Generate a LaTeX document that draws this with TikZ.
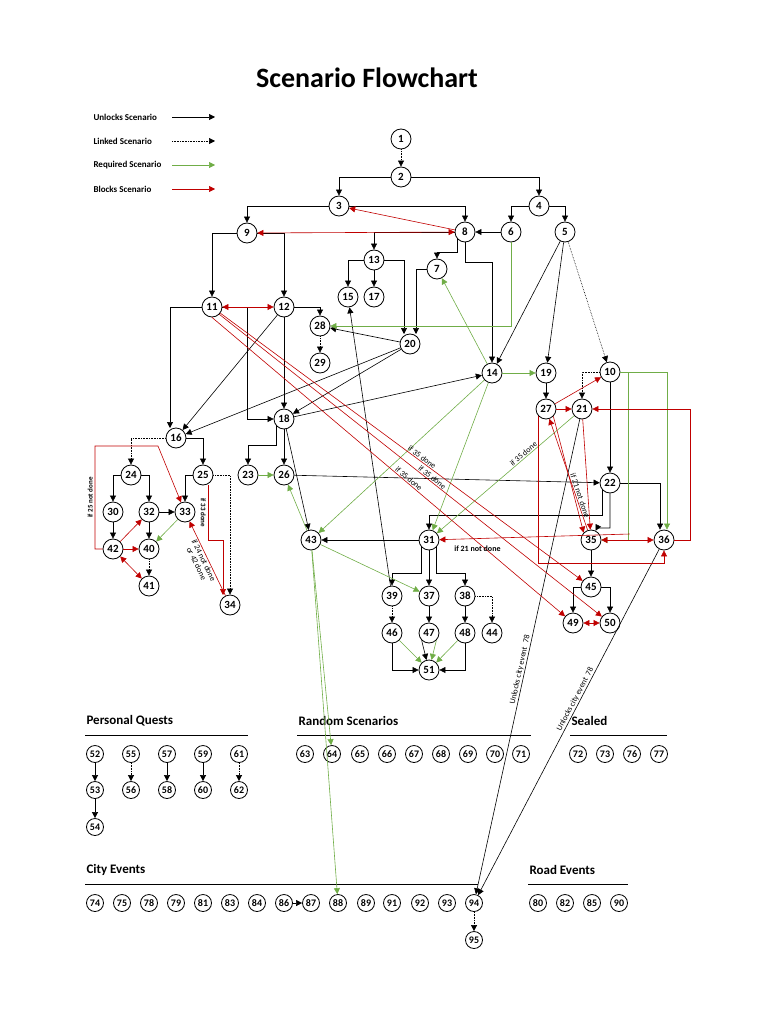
\documentclass[tikz,border=0pt]{standalone}
\usepackage{fontspec}
\setmainfont{Carlito}
\usetikzlibrary{arrows.meta}
\definecolor{reqgreen}{RGB}{112,173,71}
\definecolor{blkred}{RGB}{192,0,0}
\tikzset{
  sc/.style={circle,draw,thick,inner sep=0pt,minimum size=20pt,font=\bfseries\fontsize{11}{11}\selectfont},
  ssc/.style={circle,draw,thick,inner sep=0pt,minimum size=17pt,font=\bfseries\fontsize{10}{10}\selectfont},
  unl/.style={-{Triangle[length=6pt,width=6pt]},semithick},
  lnk/.style={unl,densely dotted},
  req/.style={unl,reqgreen},
  blo/.style={unl,blkred},
  bblo/.style={{Triangle[length=6pt,width=6pt]}-{Triangle[length=6pt,width=6pt]},semithick,blkred},
  hd/.style={font=\bfseries\fontsize{13}{13}\selectfont,anchor=west},
  lg/.style={font=\bfseries\fontsize{9}{9}\selectfont,anchor=west},
  lab/.style={font=\fontsize{8}{8}\selectfont,text=black,sloped,above,inner sep=1pt},
}
\begin{document}
\begin{tikzpicture}[x=1pt,y=-1pt]
\useasboundingbox (0,0) rectangle (768,1024);
\node[font=\bfseries\fontsize{28}{28}\selectfont] (title) at (367,78) {Scenario Flowchart};
% legend
\node[lg] (l1) at (90,117) {Unlocks Scenario};
\node[lg] (l2) at (90,141) {Linked Scenario};
\node[lg] (l3) at (90,165) {Required Scenario};
\node[lg] (l4) at (90,189) {Blocks Scenario};
\coordinate (a1) at (172,117); \coordinate (b1) at (215,117);
\coordinate (a2) at (172,141); \coordinate (b2) at (215,141);
\coordinate (a3) at (172,165); \coordinate (b3) at (215,165);
\coordinate (a4) at (172,189); \coordinate (b4) at (215,189);
\draw[unl] (a1) -- (b1);
\draw[lnk] (a2) -- (b2);
\draw[req] (a3) -- (b3);
\draw[blo] (a4) -- (b4);
% main scenarios
\foreach \n/\x/\y in {1/401/139,2/401/177,3/339/206,4/539/206,9/247/233,8/465/232,6/511/232,5/565/232,
  13/374/260,7/437/269,15/348/297,17/374/297,11/212/307,12/284/307,28/320/326,29/320/363,20/410/344,
  14/492/373,19/546/373,10/610/372,27/546/409,21/582/409,16/176/438,18/284/419,24/131/475,25/203/475,
  23/248/475,26/284/475,30/113/512,32/149/512,33/185/512,22/610/483,42/113/549,40/149/549,43/311/540,
  31/429/540,35/591/540,36/664/540,41/149/586,34/230/605,45/591/587,39/392/596,37/429/596,38/465/596,
  49/573/623,50/610/623,46/392/633,47/429/633,48/465/633,44/492/633,51/429/670}
  \node[sc] (s\n) at (\x,\y) {\n};
% sections
\node[hd] (hpq) at (83,721) {Personal Quests};
\node[hd] (hrs) at (295,721) {Random Scenarios};
\node[hd] (hse) at (568,721) {Sealed};
\node[hd] (hce) at (83,870) {City Events};
\node[hd] (hre) at (526,870) {Road Events};
\draw[thick] (85,735) -- (248,735) (297,735) -- (531,735) (570,735) -- (667,735)
  (85,884) -- (478,884) (528,884) -- (628,884);
\foreach \n/\x in {52/95,55/131,57/167,59/203,61/239,63/305,64/332,65/360,66/387,67/414,68/441,69/468,70/495,71/521,72/578,73/605,76/632,77/659}
  \node[ssc] (s\n) at (\x,754) {\n};
\foreach \n/\x in {53/95,56/131,58/167,60/203,62/239}
  \node[ssc] (s\n) at (\x,790) {\n};
\node[ssc] (s54) at (95,827) {54};
\foreach \n/\x in {74/95,75/122,78/149,79/176,81/203,83/230,84/257,86/284,87/311,88/338,89/366,91/392,92/420,93/447,94/474,80/538,82/565,85/592,90/619}
  \node[ssc] (s\n) at (\x,903) {\n};
\node[ssc] (s95) at (474,940) {95};
% unlocks
\draw[lnk] (s1) -- (s2);
\draw[unl] (s2) -| (s3);
\draw[unl] (s2) -| (s4);
\draw[unl] (s3) -| (s9);
\draw[unl] (s3) -| (s8);
\draw[unl] (s4) -| (s6);
\draw[unl] (s4) -| (s5);
\draw[unl] (s6) -- (s8);
\draw[unl] (s8.west) -| (s13);
\draw[unl] (s8.south west) |- (437,252) -- (s7);
\draw[unl] (s8.south) |- (492,262) -- (s14);
\draw[unl] (s13) -| (s15);
\draw[unl] (s13) -- (s17);
\draw[unl] (s13) -| (404,334);
\draw[unl] (s7) -| (416,334);
\draw[unl] (s20) -- (s28);
\draw[lnk] (s28) -- (s29);
\draw[unl] (s9) -| (s11);
\draw[unl] (s9) -| (s12);
\draw[unl] (s12) -| (s28);
\draw[unl] (s11.west) -| (170,428);
\draw[unl] (s11.east) -| (247,419) -- (s18);
\draw[unl] (s12) -- (s16);
\draw[unl] (s12) -- (s18);
\draw[unl] (s20) -- (s16);
\draw[unl] (s20) -- (s18);
\draw[unl] (s18) -- (s14);
\draw[unl] (s39) -- (s15);
\draw[unl] (s5) -- (s14);
\draw[unl] (s5) -- (s19);
\draw[lnk] (s5) -- (s10);
\draw[unl] (s19) -- (s27);
\draw[lnk] (s10.west) -| (s21);
\draw[unl] (s10) -- (s22);
\draw[unl] (s22.south west) |- (429,515) -- (s31);
\draw[unl] (s22.south) |- (597,528) -- (s35);
\draw[unl] (s22) -| ([xshift=-4pt]s36.north);
\draw[unl] (s26) -- (s22);
\draw[lnk] (s16) -| (s24);
\draw[unl] (s16) -| (s25);
\draw[unl] (s24) -| (s30);
\draw[unl] (s24) -| (s32);
\draw[unl] (s30) -- (s42);
\draw[unl] (s32) -- (s33);
\draw[unl] (s32) -- (s40);
\draw[lnk] (s40) -- (s41);
\draw[unl] (s25) -| (s33);
\draw[lnk] (s25) -| (s34);
\draw[unl] (s18.south west) |- (248,445) -- (s23);
\draw[unl] (s18) -- (s26);
\draw[unl] (s18) -- (s43);
\draw[unl] (s31) -- (s43);
\draw[unl] (s31.south west) |- (392,573) -- (s39);
\draw[unl] (s31) -- (s37);
\draw[unl] (s31.south east) |- (465,573) -- (s38);
\draw[lnk] (s39) -- (s46);
\draw[unl] (s37) -- (s47);
\draw[unl] (s38) -- (s48);
\draw[lnk] (s38) -| (s44);
\draw[unl] (s46) |- (s51);
\draw[unl] (s47.south west) -- (s51);
\draw[unl] (s48) |- (s51);
\draw[unl] (s35) -- (s45);
\draw[unl] (s45) -| (s49);
\draw[unl] (s45) -| (s50);
\draw[unl] (s21) -- node[lab,pos=0.53] {Unlocks city event\ \ 78} (s94);
\draw[unl] (s36) -- node[lab,pos=0.44] {Unlocks city event\ \ 78} (s94);
\draw[unl] (s52) -- (s53);
\draw[unl] (s53) -- (s54);
\draw[lnk] (s55) -- (s56);
\draw[unl] (s57) -- (s58);
\draw[unl] (s59) -- (s60);
\draw[lnk] (s61) -- (s62);
\draw[unl] (s86) -- (s87);
\draw[lnk] (s94) -- (s95);
% required
\draw[req] (s6) |- (s28);
\draw[req] (s14) -- (s19);
\draw[req] (s14) -- (s7);
\draw[req] (s14) -- (s43);
\draw[req] (s14) -- (s31);
\draw[req] (s21) -- node[lab,pos=0.35] {if 35 done} (s31);
\draw[req] (s10) -| (628,540) -- (s35);
\draw[req] (s10) -| ([xshift=3pt]s36.north);
\draw[req] (s33) -- (s40);
\draw[req] (s23) -- (s26);
\draw[req] (s43) -- (s26);
\draw[req] (s43) -- (s64);
\draw[req] (s43) -- (s88);
\draw[req] (s43) -- (s37);
\draw[req] (s46) -- (s51);
\draw[req] (s47.south east) -- (s51);
\draw[req] (s48) -- (s51);
% blocks
\draw[blo] (s8) -- (s3);
\draw[bblo] (s9) -- (s8);
\draw[bblo] (s11) -- (s12);
\draw[blo] (s11) -- node[lab,pos=0.55] {if 35 done} (s45);
\draw[blo] (s11.south east) -- node[lab,pos=0.55] {if 35 done} (s50);
\draw[blo] (s11.south) -- node[lab,pos=0.55] {if 35 done} (s49);
\draw[blo] (s27) -- (s10);
\draw[blo] (s27) -- (s21);
\draw[blo] (s36.east) -| (690,409) -- (s21);
\draw[blo] (s21) -- (s35);
\draw[blo] (s27.south east) -- (s35.north west);
\draw[blo] (s35) -- node[lab,pos=0.3] {if 21 not done} (s27);
\draw[blo] (s27.south west) |- (664,563) -- (s36);
\draw[bblo] (s35) -- (s36);
\draw[blo] (s36.west) ++(-24,-6) -- node[below=4pt,pos=0.8,text=black,font=\bfseries\fontsize{8}{8}\selectfont] {if 21 not done} (s31);
\draw[blo] (s42) -- (s40);
\draw[blo] (s42) -- (s32);
\draw[bblo] (s42) -- (s41);
\draw[blo] (s42.west) -- (95,549) -- node[sloped,above,text=black,inner sep=2pt,font=\bfseries\fontsize{7}{7}\selectfont] {if 25 not done} (95,446) -- (158,446) -- (s33);
\draw[blo] (s25.south) ++(5,0) -- node[sloped,below,text=black,inner sep=2pt,font=\bfseries\fontsize{7}{7}\selectfont] {if 33 done} (208,540) -- (223,540) -- (223,595);
\draw[blo] (s34) -- node[lab,below,align=center] {if 24 not done\\or 42 done} (s33);
\draw[bblo] (s49) -- (s50);
\end{tikzpicture}
\end{document}
